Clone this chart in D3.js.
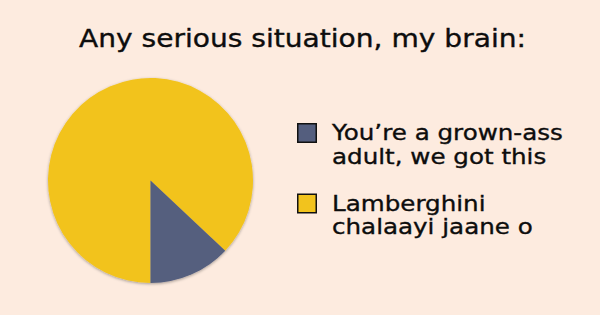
<!DOCTYPE html>
<html>
<head>
<meta charset="utf-8">
<script src="https://cdn.jsdelivr.net/npm/d3@7"></script>
<style>
    html, body { margin: 0; padding: 0; background: #fdebdf; }
    svg { display: block; }
    text { font-family: "DejaVu Sans", sans-serif; fill: #0d0d0d; stroke: #0d0d0d; stroke-width: 0.35px; }
</style>
</head>
<body>
<div id="chart"></div>
<script>
(function(d3) {
    'use strict';

    // Chart data
    var title = 'Any serious situation, my brain:';
    var categories = ['Lamberghini chalaayi jaane o', 'You\u2019re a grown-ass adult, we got this'];
    var values = [87, 13];
    var colors = ['#f2c31d', '#545e7e'];

    // Legend order and wrapped labels, as in the picture
    var legendOrder = [1, 0];
    var legendLines = [
        ['Lamberghini', 'chalaayi jaane o'],
        ['You\u2019re a grown-ass', 'adult, we got this']
    ];

    // The original font is a wide geometric face; stretch text to match
    var stretch = 1.17;

    var width = 600,
        height = 315;

    var svg = d3.select('#chart').append('svg')
        .attr('width', width)
        .attr('height', height);

    svg.append('rect')
        .attr('width', width)
        .attr('height', height)
        .attr('fill', '#fdebdf');

    // Soft shadow behind the pie
    var defs = svg.append('defs');
    defs.append('filter')
        .attr('id', 'pieShadow')
        .attr('x', '-10%').attr('y', '-10%')
        .attr('width', '120%').attr('height', '120%')
        .append('feDropShadow')
        .attr('dx', 0).attr('dy', 1)
        .attr('stdDeviation', 1.5)
        .attr('flood-color', '#000')
        .attr('flood-opacity', 0.35);

    function widen(sel) {
        sel.each(function() {
            var len = this.getComputedTextLength();
            d3.select(this)
                .attr('textLength', len * stretch)
                .attr('lengthAdjust', 'spacingAndGlyphs');
        });
    }

    svg.append('text')
        .attr('x', 302.5)
        .attr('y', 47)
        .attr('text-anchor', 'middle')
        .style('font-size', '24px')
        .text(title)
        .call(widen);

    // Pie
    var radius = 102.5;
    var pie = d3.pie()
        .sort(null)
        .startAngle(Math.PI)
        .endAngle(3 * Math.PI);

    var arc = d3.arc()
        .innerRadius(0)
        .outerRadius(radius);

    var pieArea = svg.append('g')
        .attr('class', 'pie')
        .attr('transform', 'translate(150.5,180.5)')
        .attr('filter', 'url(#pieShadow)');

    pieArea.selectAll('path')
        .data(pie(values))
        .enter().append('path')
        .attr('d', arc)
        .attr('fill', function(d, i) { return colors[i]; });

    // Legend
    var legend = svg.append('g')
        .attr('class', 'legend')
        .attr('transform', 'translate(297,123)');

    var item = legend.selectAll('g')
        .data(legendOrder)
        .enter().append('g')
        .attr('transform', function(d, i) { return 'translate(0,' + (i * 70.5) + ')'; });

    item.append('rect')
        .attr('x', 0.75)
        .attr('y', 0.75)
        .attr('width', 18.5)
        .attr('height', 18.5)
        .attr('fill', function(d) { return colors[d]; })
        .attr('stroke', '#111')
        .attr('stroke-width', 1.5);

    item.selectAll('text')
        .data(function(d) { return legendLines[d]; })
        .enter().append('text')
        .attr('x', 35)
        .attr('y', function(d, i) { return 17 + i * 23.5; })
        .style('font-size', '21px')
        .text(function(d) { return d; })
        .call(widen);

}(d3));
</script>
</body>
</html>
